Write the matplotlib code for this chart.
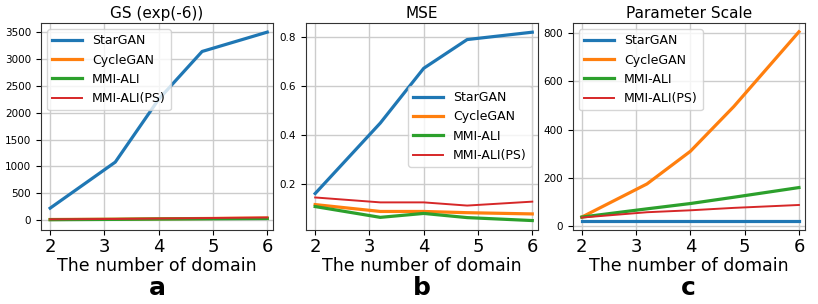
import matplotlib
matplotlib.use('Agg')
import matplotlib.pyplot as plt

domains = [2, 3.2, 4, 4.8, 6]
names = ['StarGAN', 'CycleGAN', 'MMI-ALI', 'MMI-ALI(PS)']
colors = ['#1f77b4', '#ff7f0e', '#2ca02c', '#d62728']
widths = [2.3, 2.3, 2.3, 1.4]

# GS (exp(-6))
gs_stargan = [223, 1080, 2250, 3140, 3500]
gs_cyclegan = [12, 18, 25, 30, 38]
gs_mmiali = [8, 14, 20, 24, 30]
gs_mmiali_ps = [15, 22, 30, 38, 50]

# MSE
mse_stargan = [0.163, 0.45, 0.673, 0.79, 0.82]
mse_cyclegan = [0.118, 0.09, 0.09, 0.085, 0.08]
mse_mmiali = [0.11, 0.066, 0.082, 0.065, 0.053]
mse_mmiali_ps = [0.147, 0.127, 0.127, 0.114, 0.13]

# Parameter scale
ps_stargan = [22, 22, 22, 22, 22]
ps_cyclegan = [38, 175, 310, 495, 804]
ps_mmiali = [38, 72, 94, 120, 160]
ps_mmiali_ps = [36, 58, 66, 76, 88]

panels = [
    ('GS (exp(-6))', [gs_stargan, gs_cyclegan, gs_mmiali, gs_mmiali_ps], 'a', 'upper left'),
    ('MSE', [mse_stargan, mse_cyclegan, mse_mmiali, mse_mmiali_ps], 'b', 'center right'),
    ('Parameter Scale', [ps_stargan, ps_cyclegan, ps_mmiali, ps_mmiali_ps], 'c', 'upper left'),
]
lefts = [0.050, 0.374, 0.700]

fig = plt.figure(figsize=(8.18, 3.04), dpi=100)
for (title, series, letter, loc), left in zip(panels, lefts):
    ax = fig.add_axes([left, 0.243, 0.284, 0.681])
    for vals, name, c, w in zip(series, names, colors, widths):
        ax.plot(domains, vals, color=c, lw=w, label=name)
    ax.grid(True, color='#cccccc', lw=1)
    ax.set_axisbelow(True)
    ax.set_xlim(1.83, 6.11)
    ax.set_xticks([2, 3, 4, 5, 6])
    ax.tick_params(axis='x', labelsize=13, pad=2)
    ax.tick_params(axis='y', labelsize=7.5)
    ax.set_title(title, fontsize=11, pad=4)
    ax.set_xlabel('The number of domain', fontsize=12.5, labelpad=1)
    for s in ax.spines.values():
        s.set_color('#333333')
    ax.legend(loc=loc, fontsize=9, framealpha=0.8, handlelength=2.4)
    ax.text(0.5, -0.28, letter, transform=ax.transAxes, ha='center', va='center',
            fontsize=18, fontweight='bold')

fig.axes[0].set_ylim(-186, 3668)
fig.axes[0].set_yticks(range(0, 3501, 500))
fig.axes[1].set_ylim(0.014, 0.857)
fig.axes[1].set_yticks([0.2, 0.4, 0.6, 0.8])
fig.axes[2].set_ylim(-16, 840)
fig.axes[2].set_yticks([0, 200, 400, 600, 800])

fig.savefig('out.png', dpi=100)
